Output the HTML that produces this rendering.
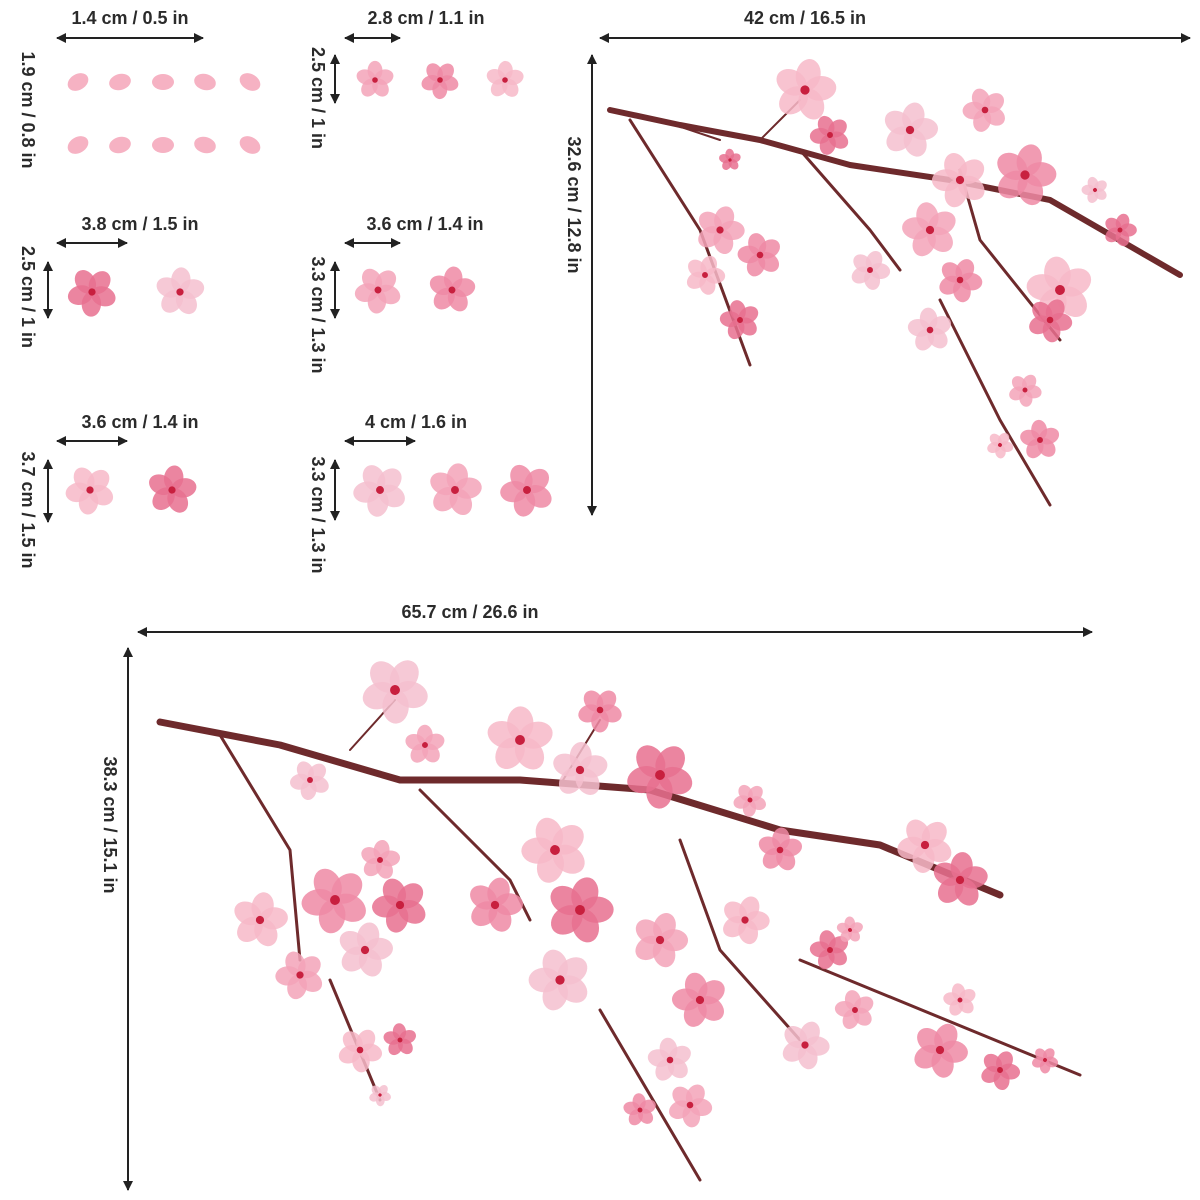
<!DOCTYPE html>
<html><head><meta charset="utf-8">
<style>
html,body{margin:0;padding:0;background:#fff;}
svg{display:block;}
text{font-family:"Liberation Sans",sans-serif;font-weight:bold;font-size:18px;fill:#2b2b2b;}
</style></head>
<body>
<svg id="s" width="1200" height="1200" viewBox="0 0 1200 1200">
<defs>
<marker id="ah" viewBox="0 0 10 10" refX="9" refY="5" markerWidth="5" markerHeight="5" orient="auto-start-reverse"><path d="M0,0 L10,5 L0,10 z" fill="#222"/></marker>
</defs>
<g id="branches" stroke="#6e2a2c" fill="none" stroke-linecap="round" stroke-linejoin="round"></g>
<g id="flowers"></g>
<g id="dims" stroke="#222" stroke-width="2"></g>
<g id="labels"></g>
</svg>
<script>
const NS='http://www.w3.org/2000/svg';
const br=document.getElementById('branches'),fl=document.getElementById('flowers'),dm=document.getElementById('dims'),lb=document.getElementById('labels');
function mk(t,a,p){const e=document.createElementNS(NS,t);for(const k in a)e.setAttribute(k,a[k]);p.appendChild(e);return e;}
const arrows=[[57,38,203,38],[345,38,400,38],[335,55,335,103],[57,243,127,243],[48,262,48,318],[345,243,400,243],[335,262,335,318],[57,441,127,441],[48,460,48,522],[345,441,415,441],[335,460,335,520],[600,38,1190,38],[592,55,592,515],[138,632,1092,632],[128,648,128,1190]];
arrows.forEach(a=>{const l=mk('line',{x1:a[0],y1:a[1],x2:a[2],y2:a[3],'marker-start':'url(#ah)','marker-end':'url(#ah)'},dm);

});
const labels=[["1.4 cm / 0.5 in",130,24,0],["2.8 cm / 1.1 in",426,24,0],["1.9 cm / 0.8 in",22,110,1],["2.5 cm / 1 in",312,98,1],["3.8 cm / 1.5 in",140,230,0],["2.5 cm / 1 in",22,297,1],["3.6 cm / 1.4 in",425,230,0],["3.3 cm / 1.3 in",312,315,1],["3.6 cm / 1.4 in",140,428,0],["3.7 cm / 1.5 in",22,510,1],["4 cm / 1.6 in",416,428,0],["3.3 cm / 1.3 in",312,515,1],["42 cm / 16.5 in",805,24,0],["32.6 cm / 12.8 in",568,205,1],["65.7 cm / 26.6 in",470,618,0],["38.3 cm / 15.1 in",104,825,1]];
labels.forEach(l=>{const t=mk('text',{x:l[1],y:l[2],'text-anchor':'middle'},lb);t.textContent=l[0];
if(l[3])t.setAttribute('transform',`rotate(90 ${l[1]} ${l[2]})`);

});
const branches=[[[610,110,6],[680,125],[760,140],[850,165],[950,180],[1050,200],[1180,275]],[[630,120,3],[700,230],[750,365]],[[800,150,3],[870,230],[900,270]],[[960,170,3],[980,240],[1060,340]],[[940,300,3],[1000,420],[1050,505]],[[760,140,2],[800,100]],[[660,120,2],[720,140]],
[[160,722,7],[280,745],[400,780],[520,780],[650,790],[780,830],[880,845],[1000,895]],[[220,735,3],[290,850],[300,960]],[[420,790,3],[510,880],[530,920]],[[680,840,3],[720,950],[800,1040]],[[600,1010,3],[700,1180]],[[330,980,3],[380,1100]],[[800,960,3],[1080,1075]],[[350,750,2],[395,700]],[[560,785,2],[600,720]]];
branches.forEach(b=>{const p=mk('polyline',{points:b.map(q=>q[0]+','+q[1]).join(' '),'stroke-width':b[0][2]},br);

});
function flower(x,y,r,c,rot){const g=mk('g',{transform:`translate(${x},${y}) rotate(${rot})`},fl);


for(let i=0;i<5;i++){const a=i*72;mk('ellipse',{cx:0,cy:-r*0.5,rx:r*0.4,ry:r*0.52,fill:c,opacity:0.85,transform:`rotate(${a})`},g);}
mk('circle',{cx:0,cy:0,r:r*0.15,fill:'#c8203f'},g);}
const cols=['#f3a3b8','#ee8aa4','#f7b9c8','#e8708f','#f5c0cf'];
let k=0;
function F(list){list.forEach(f=>{flower(f[0],f[1],f[2]*1.1,cols[k%5],(k*37)%72);k++;});}
[78,120,163,205,250].forEach((x,i)=>{[82,145].forEach(y=>{const e=mk('ellipse',{cx:x,cy:y,rx:11,ry:8,fill:'#f6b2c3',transform:`rotate(${-30+i*15} ${x} ${y})`},fl);

});});
F([[375,80,17],[440,80,17],[505,80,17],[92,292,22],[180,292,22],[378,290,21],[452,290,21],[90,490,22],[172,490,22],[380,490,24],[455,490,24],[527,490,24]]);
F([[805,90,28],[830,135,18],[910,130,25],[985,110,20],[1025,175,28],[960,180,25],[1120,230,15],[1095,190,12],[720,230,22],[760,255,20],[705,275,18],[740,320,18],[870,270,18],[930,230,25],[960,280,20],[1060,290,30],[1050,320,20],[930,330,20],[1025,390,15],[1040,440,18],[1000,445,12],[730,160,10]]);
F([[395,690,30],[425,745,18],[600,710,20],[520,740,30],[660,775,30],[580,770,25],[750,800,15],[780,850,20],[925,845,25],[960,880,25],[310,780,18],[380,860,18],[335,900,30],[260,920,25],[400,905,25],[365,950,25],[300,975,22],[495,905,25],[555,850,30],[580,910,30],[560,980,28],[660,940,25],[700,1000,25],[745,920,22],[830,950,18],[805,1045,22],[855,1010,18],[940,1050,25],[960,1000,15],[1000,1070,18],[670,1060,20],[690,1105,20],[640,1110,15],[360,1050,20],[400,1040,15],[380,1095,10],[850,930,12],[1045,1060,12]]);
</script>
</body></html>
